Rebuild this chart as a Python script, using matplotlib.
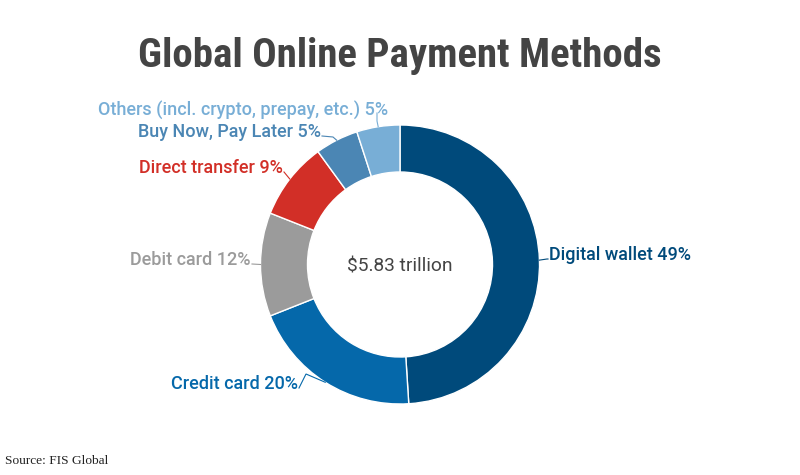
import numpy as np
import matplotlib
matplotlib.use("Agg")
import matplotlib.pyplot as plt

# data
methods = ["Digital wallet", "Credit card", "Debit card", "Direct transfer",
           "Buy Now, Pay Later", "Others (incl. crypto, prepay, etc.)"]
shares = [49, 20, 12, 9, 5, 5]
colors = ["#004a7b", "#0568aa", "#9b9b9b", "#d22f27", "#4b86b4", "#78aed6"]
total_label = "$5.83 trillion"

W, H = 800, 475


def px(x, y):
    # image pixel coords (y down) -> data coords (y up)
    return x, H - y


fig = plt.figure(figsize=(8, 4.75), dpi=100)
ax = fig.add_axes([0, 0, 1, 1])

cx, cy = px(400, 264.5)
R = 139.5
wedges, _ = ax.pie(shares, colors=colors, startangle=90, counterclock=False,
                   center=(cx, cy), radius=R, frame=True,
                   wedgeprops=dict(width=47, edgecolor="white", linewidth=1))
ax.set_xlim(0, W)
ax.set_ylim(0, H)
ax.set_aspect("equal")
ax.axis("off")

# label layout: text position (px), alignment, elbow point (px) or None
layout = [
    ((549, 255), "left", (547, 259)),
    ((298, 384), "right", (306, 374)),
    ((251, 260), "right", None),
    ((283, 168), "right", None),
    ((321, 132), "right", (333, 137)),
    ((388, 110), "right", (377, 121)),
]

for w, name, pct, col, (tpos, ha, elbow) in zip(wedges, methods, shares, colors, layout):
    ang = np.deg2rad((w.theta1 + w.theta2) / 2)
    ax_pt = (cx + R * np.cos(ang), cy + R * np.sin(ang))
    tx, ty = px(*tpos)
    end_x = tx - 1 if ha == "left" else tx + 1
    pts = [ax_pt]
    if elbow is not None:
        pts.append(px(*elbow))
    if name.startswith("Others"):
        pts.append((elbow[0], ty - 3))
    else:
        pts.append((end_x, ty - 4))
    xs, ys = zip(*pts)
    ax.plot(xs, ys, color=col, lw=0.8, solid_joinstyle="miter")
    ax.text(tx, ty, f"{name} {pct}%", ha=ha, va="center", color=col,
            fontsize=13, fontfamily="Roboto", fontweight="medium")

ax.text(cx, cy - 2, total_label, ha="center", va="center", color="#444444",
        fontsize=13.8, fontfamily="Roboto")

fig.text(0.5, 1 - 56 / H, "Global Online Payment Methods", ha="center", va="center",
         color="#444444", fontsize=29.4, fontweight="bold",
         fontfamily=["Roboto Condensed", "Roboto"])
fig.text(5 / W, 1 - 461 / H, "Source: FIS Global", ha="left", va="center",
         color="#222222", fontsize=9.6, fontfamily="Liberation Serif")

fig.savefig("out.png", dpi=100)
